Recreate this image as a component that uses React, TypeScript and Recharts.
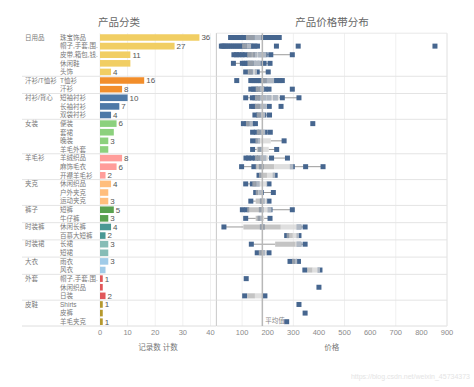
import React from 'react';
import {
  BarChart, Bar, XAxis, YAxis, CartesianGrid, Cell, LabelList,
  ScatterChart, Scatter, ReferenceLine, ReferenceArea,
} from 'recharts';

// 大类与每类包含的子类数量
const GROUPS = ['日用品', '汗衫/T恤衫', '衬衫/背心', '女装', '羊毛衫', '夹克', '裤子', '时装裤', '时装裙', '大衣', '外套', '皮鞋'];
const GROUP_SIZES = [5, 2, 3, 4, 3, 3, 2, 2, 2, 2, 3, 3];
const GROUP_COLORS = ['#f1ce63', '#f28e2b', '#4e79a7', '#8cd17d', '#ff9d9a', '#ffbe7d', '#59a14f', '#499894', '#86bcb6', '#a0cbe8', '#e15759', '#b6992d'];

const SUBCATS = [
  '珠宝饰品', '帽子,手套,围.', '皮带,箱包,钱.', '休闲鞋', '头饰',
  'T恤衫', '汗衫',
  '短袖衬衫', '长袖衬衫', '双袋衬衫',
  '便装', '套裙', '晚装', '羊毛外套',
  '羊绒织品', '麻饰毛衣', '开襟羊毛衫',
  '休闲织品', '户外夹克', '运动夹克',
  '短裤', '牛仔裤',
  '休闲长裤', '百慕大短裤',
  '长裙', '短裙',
  '雨衣', '风衣',
  '帽子,手套,围.', '休闲织品', '日装',
  'Shirts', '皮裤', '羊毛夹克',
];
const COUNTS = [36, 27, 11, 11, 4, 16, 8, 10, 7, 4, 6, 5, 3, 3, 8, 6, 2, 4, 3, 3, 5, 3, 4, 2, 3, 3, 3, 2, 1, 1, 2, 1, 1, 1];
// 标签是否显示（原图中部分数值被隐藏）
const COUNT_SHOWN = [1, 1, 1, 0, 1, 1, 1, 1, 1, 1, 1, 0, 1, 0, 1, 1, 1, 1, 0, 1, 1, 1, 1, 1, 1, 0, 1, 0, 1, 0, 1, 1, 0, 1];
const COUNT_TICKS = [0, 10, 20, 30, 40];

// 每个子类的商品价格
const PRICES: number[][] = [
  [55, 60, 66, 72, 78, 84, 90, 96, 102, 108, 115, 122, 128, 135, 142, 148, 155, 162, 170, 178, 186, 195, 205, 215, 228, 245],
  [19, 24, 30, 37, 44, 52, 60, 68, 76, 84, 92, 100, 108, 116, 124, 132, 140, 150, 160, 234, 319, 853],
  [68, 78, 88, 100, 112, 128, 150, 172, 190, 212, 296],
  [66, 101, 110, 118, 126, 135, 145, 158, 170, 186, 209],
  [114, 134, 159, 202],
  [79, 134, 142, 150, 158, 165, 172, 180, 188, 196, 205, 214, 225, 236, 247, 257],
  [134, 145, 153, 165, 178, 190, 205, 296],
  [114, 140, 150, 160, 172, 185, 205, 230, 257, 322],
  [137, 145, 155, 170, 185, 206, 252],
  [150, 165, 185, 207],
  [105, 118, 128, 140, 152, 376],
  [141, 155, 172, 190, 210],
  [141, 160, 264],
  [141, 172, 235],
  [115, 125, 138, 152, 168, 185, 215, 277],
  [98, 146, 175, 296, 348, 416],
  [166, 229],
  [114, 140, 159, 205],
  [153, 175, 222],
  [134, 179, 205],
  [101, 118, 175, 209, 296],
  [114, 170, 209],
  [29, 179, 322, 346],
  [274, 322],
  [136, 322, 346],
  [159, 180, 205],
  [287, 305, 320],
  [345, 404],
  [116],
  [400],
  [110, 189],
  [322],
  [346],
  [274],
];
// 箱线图: [q1, 中位数, q3, 下须, 上须]
const BOXES: (number[] | null)[] = [
  [115, 148, 175, 55, 245],
  [100, 118, 135, 19, 160],
  [120, 150, 195, 68, 296],
  [121, 145, 173, 66, 209],
  [122, 140, 158, 114, 202],
  [173, 195, 225, 134, 257],
  [153, 170, 186, 134, 205],
  [150, 170, 245, 114, 322],
  [150, 170, 196, 137, 206],
  [157, 172, 190, 150, 207],
  [115, 128, 142, 105, 152],
  [157, 172, 190, 141, 210],
  [152, 160, 212, 141, 264],
  [157, 172, 204, 141, 235],
  [150, 170, 202, 115, 277],
  [153, 225, 300, 98, 416],
  [166, 197, 229, 166, 229],
  [140, 155, 198, 114, 205],
  [153, 165, 180, 153, 222],
  [153, 179, 198, 134, 205],
  [120, 175, 215, 101, 296],
  [153, 170, 186, 114, 209],
  [105, 251, 331, 29, 346],
  [274, 298, 322, 274, 322],
  [229, 309, 331, 136, 346],
  [165, 180, 195, 159, 205],
  [295, 305, 315, 287, 320],
  [355, 375, 404, 345, 404],
  null,
  null,
  [120, 150, 180, 110, 189],
  null,
  null,
  null,
];
const AVG_PRICE = 179;
const PRICE_TICKS = [0, 100, 200, 300, 400, 500, 600, 700, 800, 900];

const FONT = '"Liberation Sans", "Noto Sans CJK SC", sans-serif';

const groupStart: number[] = [];
let acc = 0;
GROUP_SIZES.forEach(s => { groupStart.push(acc); acc += s; });
const rowGroup = SUBCATS.map((_, i) => {
  let g = 0;
  while (g + 1 < groupStart.length && groupStart[g + 1] <= i) g++;
  return g;
});

const barData = SUBCATS.map((name, i) => ({ idx: i, name, count: COUNTS[i] }));
const points = PRICES.flatMap((ps, row) => ps.map(price => ({ price, row })));

const CatTick = ({ y, payload }: any) => {
  const i = Number(payload.value);
  const half = payload.offset || 4.3;
  const g = rowGroup[i];
  const first = groupStart[g] === i;
  return (
    <g>
      {first && i > 0 && <line x1={22} x2={216} y1={y - half} y2={y - half} stroke="#e4e4e4" />}
      {i === SUBCATS.length - 1 && <line x1={22} x2={216} y1={y + half} y2={y + half} stroke="#dedede" />}
      {first && <text x={25} y={y} dy="0.35em" fontSize={6.5} fill="#7a7a7a">{GROUPS[g]}</text>}
      <text x={60} y={y} dy="0.35em" fontSize={6.5} fill="#7a7a7a">{SUBCATS[i]}</text>
    </g>
  );
};

const CountLabel = (p: any) => {
  const i = Number(p.value);
  if (!COUNT_SHOWN[i]) return null;
  return (
    <text x={p.x + p.width + 2} y={p.y + p.height / 2} dy="0.36em" fontSize={8} fill="#555">
      {COUNTS[i]}
    </text>
  );
};

const Square = (p: any) => (
  <rect x={p.cx - 2.5} y={p.cy - 2.5} width={5} height={5} fill="#46668f" />
);

const App: React.FC = () => {
  const axisTick = { fill: '#8a8a8a', fontSize: 7.5 };
  return (
    <div style={{ position: 'absolute', left: 0, top: 0, width: 474, height: 387, background: '#fff', fontFamily: FONT }}>
      <div style={{ position: 'absolute', left: 0, top: 15, width: 238, textAlign: 'center', fontSize: 10.5, color: '#666', lineHeight: '14px' }}>
        产品分类
      </div>
      <div style={{ position: 'absolute', left: 216, top: 15, width: 232, textAlign: 'center', fontSize: 10.5, color: '#666', lineHeight: '14px' }}>
        产品价格带分布
      </div>

      <div style={{ position: 'absolute', left: 0, top: 0 }}>
        <BarChart width={216} height={387} data={barData} layout="vertical"
          margin={{ top: 33.2, right: 0, bottom: 35, left: 0 }}>
          <CartesianGrid horizontal={false} stroke="#f0f0f0" />
          <XAxis type="number" domain={[0, 42]} ticks={COUNT_TICKS} allowDataOverflow
            tick={axisTick} axisLine={false} tickLine={false} tickSize={3} tickMargin={1} height={26}
            label={{ value: '记录数 计数', position: 'insideBottom', offset: 2.5, fill: '#777', fontSize: 7.5 }} />
          <YAxis type="category" dataKey="idx" width={100} interval={0}
            axisLine={false} tickLine={false} tick={(props: any) => <CatTick {...props} />} />
          <Bar dataKey="count" barSize={6.6} isAnimationActive={false}>
            {barData.map((d, i) => <Cell key={i} fill={GROUP_COLORS[rowGroup[i]]} />)}
            <LabelList dataKey="idx" content={CountLabel} />
          </Bar>
        </BarChart>
      </div>

      <div style={{ position: 'absolute', left: 216, top: 0 }}>
        <ScatterChart width={258} height={387} margin={{ top: 33.2, right: 27, bottom: 35, left: 0.5 }}>
          <CartesianGrid horizontal={false} stroke="#f0f0f0" />
          <XAxis type="number" dataKey="price" domain={[0, 900]} ticks={PRICE_TICKS}
            tick={axisTick} axisLine={false} tickLine={false} tickSize={3} tickMargin={1} height={26}
            label={{ value: '价格', position: 'insideBottom', offset: 2.5, fill: '#777', fontSize: 7.5 }} />
          <YAxis type="number" dataKey="row" domain={[-0.5, SUBCATS.length - 0.5]} reversed hide />
          <ReferenceLine y={-0.5} stroke="#e8e8e8" />
          <ReferenceLine y={SUBCATS.length - 0.5} stroke="#dedede" />
          <ReferenceLine x={900} stroke="#e8e8e8" />
          <ReferenceLine x={0} stroke="#cfcfcf" />
          {groupStart.slice(1).map(s => (
            <ReferenceLine key={'g' + s} y={s - 0.5} stroke="#e4e4e4" />
          ))}
          {BOXES.map((b, i) => b && b[3] < b[0] ? (
            <ReferenceLine key={'wl' + i} segment={[{ x: b[3], y: i }, { x: b[0], y: i }]} stroke="#9a9a9a" />
          ) : null)}
          {BOXES.map((b, i) => b && b[4] > b[2] ? (
            <ReferenceLine key={'wh' + i} segment={[{ x: b[2], y: i }, { x: b[4], y: i }]} stroke="#9a9a9a" />
          ) : null)}
          <Scatter data={points} shape={Square} isAnimationActive={false} />
          {BOXES.map((b, i) => b ? (
            <ReferenceArea key={'bl' + i} x1={b[0]} x2={b[1]} y1={i - 0.3} y2={i + 0.3}
              fill="#b0b0b0" fillOpacity={0.75} stroke="none" zIndex={650} />
          ) : null)}
          {BOXES.map((b, i) => b ? (
            <ReferenceArea key={'bh' + i} x1={b[1]} x2={b[2]} y1={i - 0.3} y2={i + 0.3}
              fill="#d4d4d4" fillOpacity={0.75} stroke="none" zIndex={650} />
          ) : null)}
          <ReferenceLine x={AVG_PRICE} stroke="#b8b8b8" strokeWidth={1.5} zIndex={700}
            label={{ value: '平均值', position: 'insideBottomLeft', offset: 3, fill: '#888', fontSize: 6.5 }} />
        </ScatterChart>
      </div>

      <div style={{ position: 'absolute', right: 4, top: 373, fontSize: 7, color: '#e4e4e4' }}>
        https://blog.csdn.net/weixin_45734373
      </div>
    </div>
  );
};

export default App;
